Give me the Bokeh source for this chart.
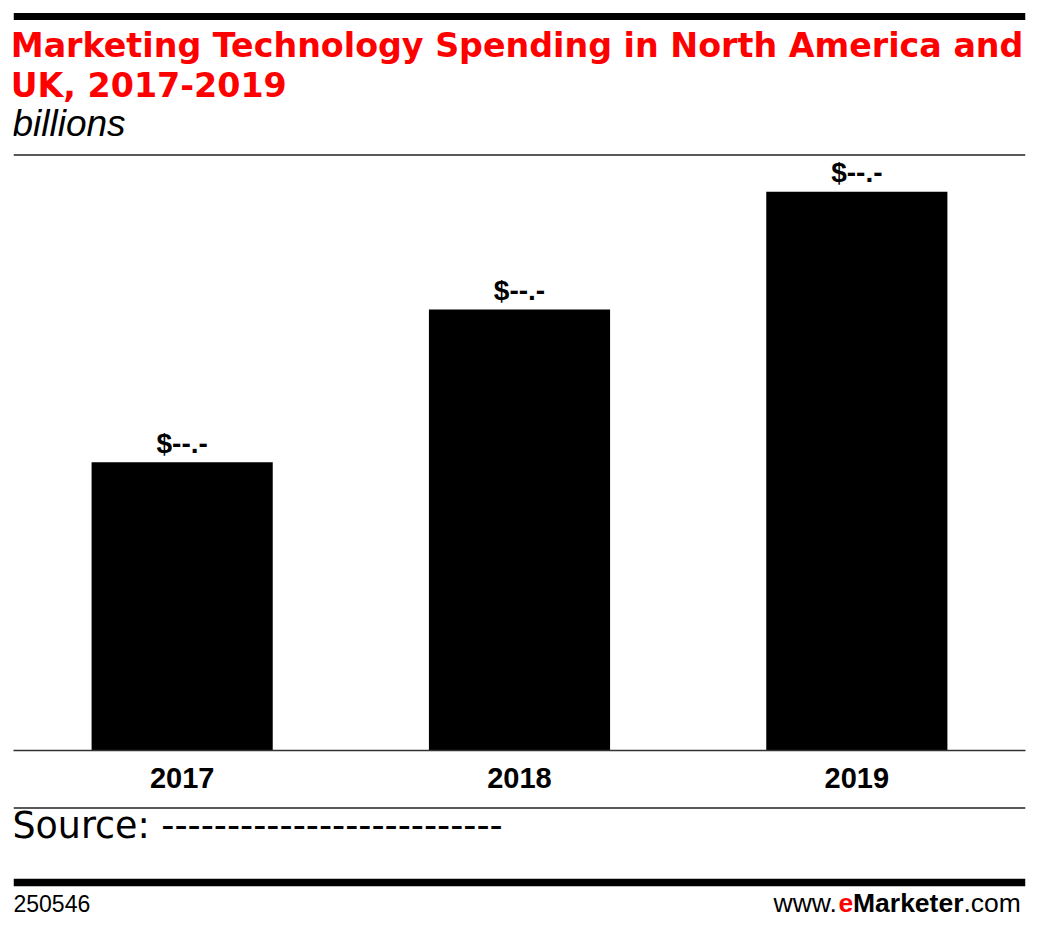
from bokeh.plotting import figure
from bokeh.models import Label, ColumnDataSource, Range1d
from bokeh.layouts import column
from bokeh.core.properties import value
from bokeh.embed import file_html
from bokeh.resources import INLINE

# ---- data ----
years = ["2017", "2018", "2019"]
spending = [14.7, 22.5, 28.5]          # billions (values hidden in source)
bar_labels = ["$--.-", "$--.-", "$--.-"]

title_line1 = "Marketing Technology Spending in North America and"
title_line2 = "UK, 2017-2019"
subtitle = "billions"
source_text = "Source: " + "-" * 26
chart_id = "250546"

RED = "#ff0000"
W = 1038
L, R = 13, 1025   # frame edges (all three plots share aligned frames)


def blank_fig(h):
    f = figure(width=W, height=h, x_range=Range1d(L, R), y_range=Range1d(0, h),
               output_backend="svg", toolbar_location=None,
               x_axis_location=None, y_axis_location=None,
               min_border_left=L, min_border_right=W - R, min_border_top=0, min_border_bottom=0,
               outline_line_color=None)
    f.grid.visible = False
    f.background_fill_color = "white"
    f.border_fill_color = "white"
    return f

# ---- header ----
H1 = 158
hdr = blank_fig(H1)
hdr.segment(x0=[L], y0=[142], x1=[R], y1=[142], line_width=7, line_color="black", line_cap="butt")
hdr.add_layout(Label(x=10, y=113, text=title_line1, text_font="DejaVu Sans", text_font_style="bold",
                     text_font_size="33.3px", text_color=RED, text_baseline="alphabetic"))
hdr.add_layout(Label(x=10, y=73, text=title_line2, text_font="DejaVu Sans", text_font_style="bold",
                     text_font_size="33.3px", text_color=RED, text_baseline="alphabetic"))
hdr.add_layout(Label(x=12, y=35, text=subtitle, text_font="Liberation Sans", text_font_style="italic",
                     text_font_size="37px", text_color="black", text_baseline="alphabetic"))
hdr.segment(x0=[L], y0=[3.5], x1=[R], y1=[3.5], line_width=1.5, line_color="#222222", line_cap="butt")

# ---- main chart ----
H2 = 642
src = ColumnDataSource(dict(x=years, top=spending, lab=bar_labels))
p = figure(width=W, height=H2, x_range=years, y_range=Range1d(0, 30.2),
           output_backend="svg", toolbar_location=None, y_axis_location=None,
           min_border_left=L, min_border_right=W - R, min_border_top=0, min_border_bottom=50,
           outline_line_color=None)
p.grid.visible = False
p.vbar(x="x", top="top", width=0.537, source=src, fill_color="black", line_color=None)
p.text(x="x", y="top", text="lab", source=src, text_align="center", text_baseline="alphabetic",
       y_offset=-19, text_font=value("Liberation Sans"), text_font_style="bold",
       text_font_size="28px", text_color="black")
ax = p.xaxis[0]
ax.axis_line_color = "#333333"
ax.axis_line_width = 1.5
ax.major_tick_line_color = None
ax.minor_tick_line_color = None
ax.major_tick_out = 0
ax.major_tick_in = 0
ax.major_label_standoff = 17
ax.major_label_text_font = "Liberation Sans"
ax.major_label_text_font_style = "bold"
ax.major_label_text_font_size = "29px"
ax.major_label_text_color = "black"

# ---- footer ----
H3 = 126
ftr = blank_fig(H3)
ftr.segment(x0=[L], y0=[118.5], x1=[R], y1=[118.5], line_width=1.5, line_color="#222222", line_cap="butt")
ftr.add_layout(Label(x=12, y=101, text=source_text, text_font="DejaVu Sans",
                     text_font_size="36.4px", text_color="black", text_baseline="alphabetic"))
ftr.segment(x0=[L], y0=[44], x1=[R], y1=[44], line_width=7.5, line_color="black", line_cap="butt")
ftr.add_layout(Label(x=13, y=23, text=chart_id, text_font="Liberation Sans",
                     text_font_size="23px", text_color="black", text_baseline="alphabetic"))
ftr.add_layout(Label(x=773, y=24, text="www.", text_font="Liberation Sans",
                     text_font_size="26.5px", text_color="black", text_baseline="alphabetic"))
ftr.add_layout(Label(x=838, y=24, text="e", text_font="Liberation Sans", text_font_style="bold",
                     text_font_size="26.5px", text_color=RED, text_baseline="alphabetic"))
ftr.add_layout(Label(x=852.5, y=24, text="Marketer", text_font="Liberation Sans", text_font_style="bold",
                     text_font_size="26.5px", text_color="black", text_baseline="alphabetic"))
ftr.add_layout(Label(x=963, y=24, text=".com", text_font="Liberation Sans",
                     text_font_size="26.5px", text_color="black", text_baseline="alphabetic"))

layout = column(hdr, p, ftr, spacing=0)
open("out.html", "w").write(file_html(layout, INLINE))
